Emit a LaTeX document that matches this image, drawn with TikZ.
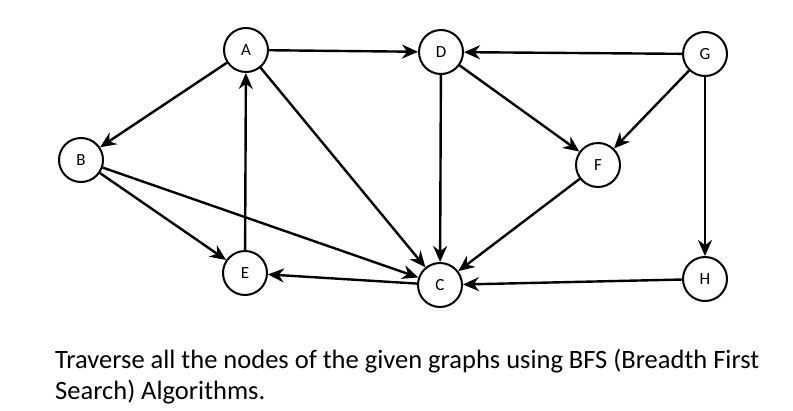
\documentclass[tikz,border=0pt]{standalone}
\usepackage{fontspec}
\setmainfont{Carlito}
\usetikzlibrary{arrows.meta}
\begin{document}
\begin{tikzpicture}[x=1pt,y=-1pt,
  v/.style={circle,draw,line width=2pt,minimum size=44pt,inner sep=0pt,font=\fontsize{17}{19}\selectfont},
  e/.style={-{Stealth[length=16pt,width=14pt]},line width=2.4pt}]
\useasboundingbox (0,0) rectangle (793,410);
\node[v] (A) at (246,50) {A};
\node[v] (D) at (441,52) {D};
\node[v] (G) at (705,54) {G};
\node[v] (B) at (81,160) {B};
\node[v] (F) at (598,165) {F};
\node[v] (E) at (245,273) {E};
\node[v] (C) at (440,285) {C};
\node[v] (H) at (705,279) {H};
\draw[e] (A) -- (D);
\draw[e] (G) -- (D);
\draw[e] (A) -- (B);
\draw[e] (A) -- (C);
\draw[e] (D) -- (C);
\draw[e] (D) -- (F);
\draw[e] (G) -- (F);
\draw[e] (G) -- (H);
\draw[e] (B) -- (E);
\draw[e] (B) -- (C);
\draw[e] (E) -- (A);
\draw[e] (F) -- (C);
\draw[e] (C) -- (E);
\draw[e] (H) -- (C);
\node[anchor=north west,align=left,font=\fontsize{26.5}{31}\selectfont,inner sep=0pt] (T) at (55,349)
 {Traverse all the nodes of the given graphs using BFS (Breadth First\\Search) Algorithms.};
\end{tikzpicture}
\end{document}
